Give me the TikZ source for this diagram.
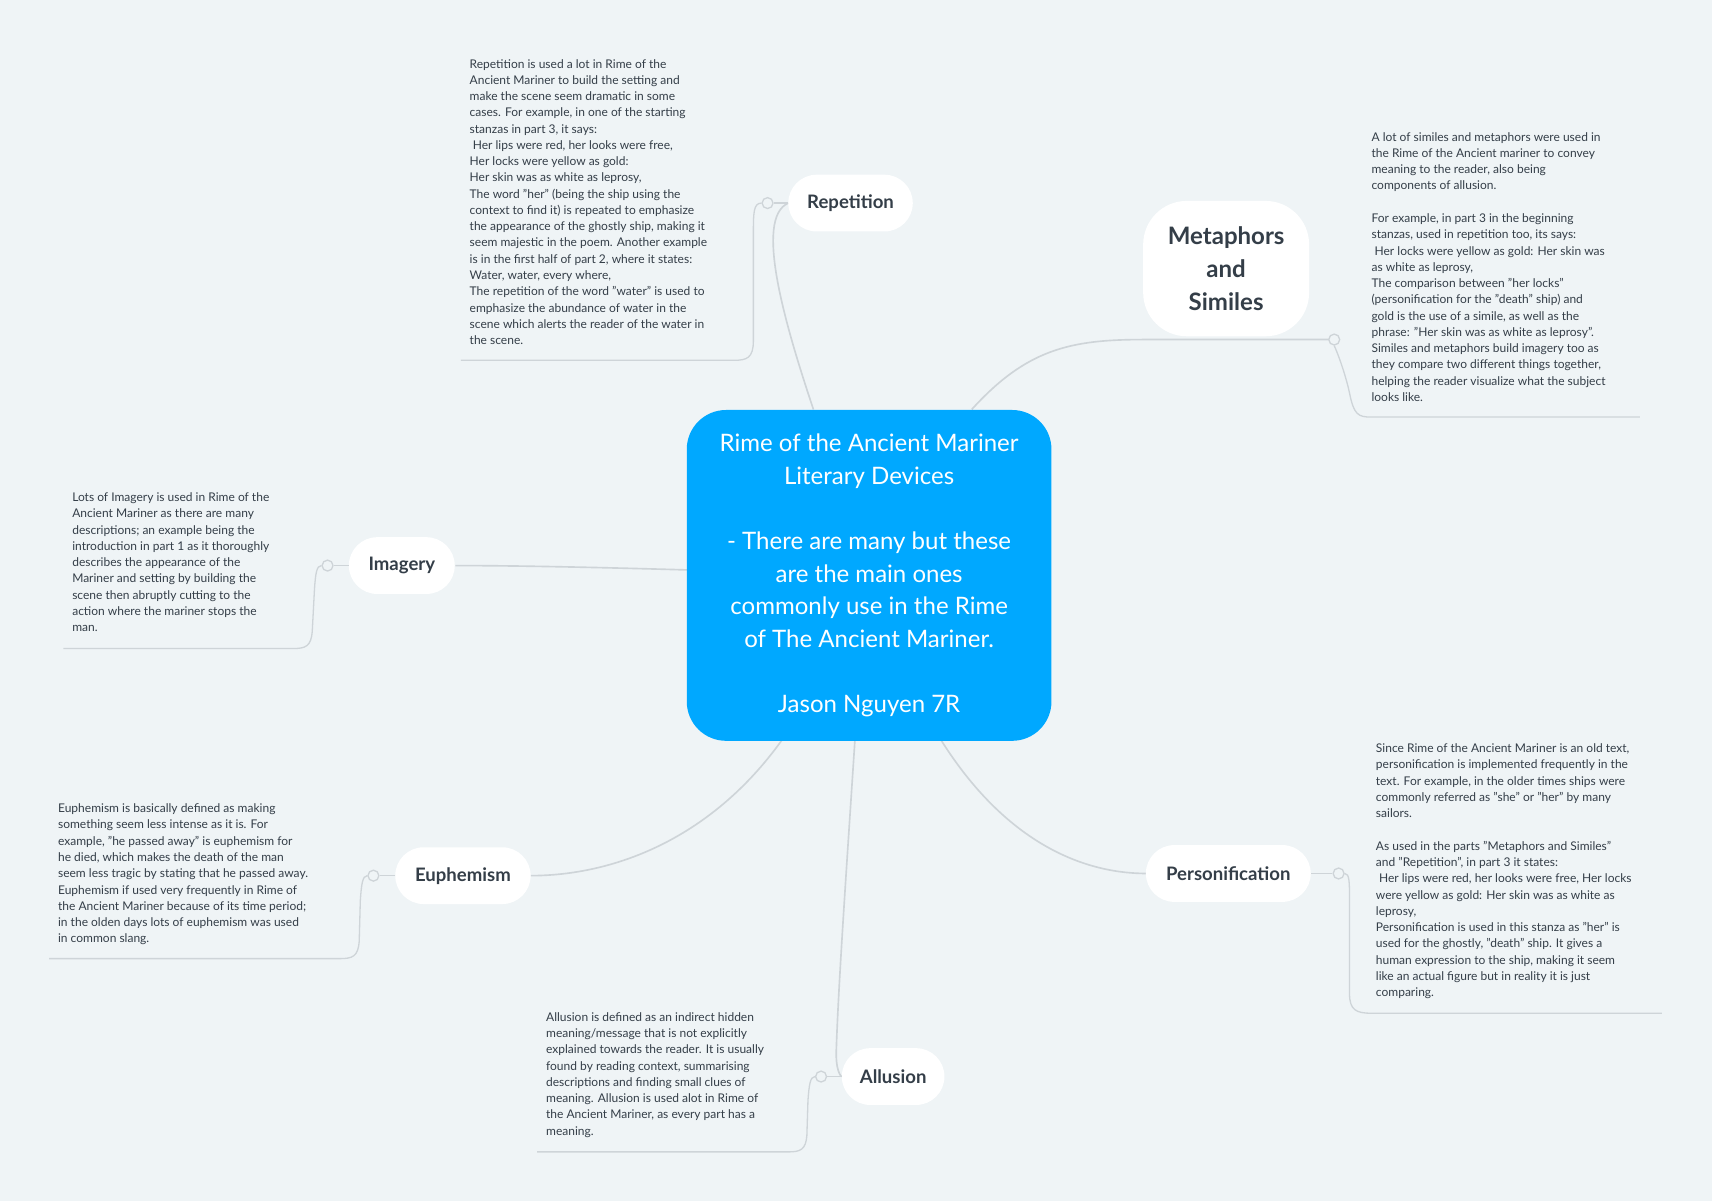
\documentclass[tikz,border=0pt]{standalone}
\usepackage{fontspec}
\setmainfont{Lato}
\definecolor{bg}{RGB}{239,244,246}
\definecolor{cen}{RGB}{0,168,255}
\definecolor{ln}{RGB}{206,212,216}
\definecolor{tx}{RGB}{52,62,72}
\begin{document}
\begin{tikzpicture}[x=1pt,y=-1pt,
  con/.style={draw=ln,line width=1.5pt},
  br/.style={fill=white,rounded corners=26pt,text=tx,font=\fontsize{17}{22}\selectfont\bfseries,inner sep=0pt,align=center},
  desc/.style={anchor=north west,align=left,text=tx,font=\fontsize{11}{14.9}\selectfont,inner sep=0pt},
  dot/.style={circle,draw=ln,fill=bg,line width=1.2pt,minimum size=10pt,inner sep=0pt}]
\fill[bg] (0,0) rectangle (1568,1100);
\useasboundingbox (0,0) rectangle (1568,1100);
% coordinates
\coordinate (cRt) at (745,375);
\coordinate (cMt) at (890,375);
\coordinate (cIm) at (630,522);
\coordinate (cEu) at (716,678);
\coordinate (cAl) at (783,678);
\coordinate (cPe) at (862,678);
% connectors from centre
\draw[con] (cRt) .. controls (720,300) and (690,200) .. (722,186);
\draw[con] (cMt) .. controls (940,320) and (980,311) .. (1047,311) -- (1217,311);
\draw[con] (cIm) .. controls (560,520) and (480,518) .. (417,518);
\draw[con] (cEu) .. controls (650,770) and (560,802) .. (486,802);
\draw[con] (cAl) .. controls (775,800) and (768,900) .. (766,960) .. controls (765,980) and (770,986) .. (771,986);
\draw[con] (cPe) .. controls (920,770) and (990,800) .. (1050,800);
% centre
\node[fill=cen,rounded corners=36pt,minimum width=334pt,minimum height=303pt,text=white,align=center,font=\fontsize{22}{29.8}\selectfont] (c) at (796,527)
{Rime of the Ancient Mariner\\Literary Devices\\[29.8pt]- There are many but these\\are the main ones\\commonly use in the Rime\\of The Ancient Mariner.\\[29.8pt]Jason Nguyen 7R};
% branch nodes
\node[br,minimum width=114pt,minimum height=52pt] (rep) at (779,186) {Repetition};
\node[br,minimum width=152pt,minimum height=124pt,rounded corners=40pt,font=\fontsize{22}{30}\selectfont\bfseries] (met) at (1123,246) {Metaphors\\and\\Similes};
\node[br,minimum width=97pt,minimum height=52pt] (ima) at (368,518) {Imagery};
\node[br,minimum width=124pt,minimum height=52pt] (eup) at (424,802) {Euphemism};
\node[br,minimum width=94pt,minimum height=52pt] (all) at (818,986) {Allusion};
\node[br,minimum width=151pt,minimum height=52pt] (per) at (1125,800) {Personification};
% brackets and dots
\node[dot] (dr) at (703,186) {};
\draw[con,line width=1.2pt] (rep.west) -- (dr);
\draw[con,line width=1.2pt] (dr.west) .. controls (690,186) and (690,195) .. (690,215) -- (690,312) .. controls (690,328) and (684,330) .. (672,330) -- (422,330);
\node[dot] (dm) at (1222,311) {};
\draw[con,line width=1.2pt] (dm.south) .. controls (1228,330) and (1234,350) .. (1236,360) .. controls (1240,380) and (1244,382) .. (1256,382) -- (1502,382);
\node[dot] (di) at (300,518) {};
\draw[con,line width=1.2pt] (ima.west) -- (di);
\draw[con,line width=1.2pt] (di.west) .. controls (290,518) and (289,525) .. (288,540) -- (286,578) .. controls (285,592) and (280,594) .. (268,594) -- (58,594);
\node[dot] (de) at (342,802) {};
\draw[con,line width=1.2pt] (eup.west) -- (de);
\draw[con,line width=1.2pt] (de.west) .. controls (332,802) and (331,810) .. (330,825) -- (329,862) .. controls (328,876) and (323,878) .. (311,878) -- (45,878);
\node[dot] (da) at (752,986) {};
\draw[con,line width=1.2pt] (all.west) -- (da);
\draw[con,line width=1.2pt] (da.west) .. controls (742,986) and (741,994) .. (740,1008) -- (739,1040) .. controls (738,1053) and (733,1055) .. (722,1055) -- (492,1055);
\node[dot] (dp) at (1226,800) {};
\draw[con,line width=1.2pt] (per.east) -- (dp);
\draw[con,line width=1.2pt] (dp.east) .. controls (1236,800) and (1236,808) .. (1236,825) -- (1236,910) .. controls (1236,925) and (1242,928) .. (1256,928) -- (1522,928);
% descriptions
\node[desc] (trep) at (430,54) {Repetition is used a lot in Rime of the\\Ancient Mariner to build the setting and\\make the scene seem dramatic in some\\cases. For example, in one of the starting\\stanzas in part 3, it says:\\\ Her lips were red, her looks were free,\\Her locks were yellow as gold:\\Her skin was as white as leprosy,\\The word "her" (being the ship using the\\context to find it) is repeated to emphasize\\the appearance of the ghostly ship, making it\\seem majestic in the poem. Another example\\is in the first half of part 2, where it states:\\Water, water, every where,\\The repetition of the word "water" is used to\\emphasize the abundance of water in the\\scene which alerts the reader of the water in\\the scene.};
\node[desc] (tmet) at (1256,121) {A lot of similes and metaphors were used in\\the Rime of the Ancient mariner to convey\\meaning to the reader, also being\\components of allusion.\\[14.9pt]For example, in part 3 in the beginning\\stanzas, used in repetition too, its says:\\\ Her locks were yellow as gold: Her skin was\\as white as leprosy,\\The comparison between "her locks"\\(personification for the "death" ship) and\\gold is the use of a simile, as well as the\\phrase: "Her skin was as white as leprosy".\\Similes and metaphors build imagery too as\\they compare two different things together,\\helping the reader visualize what the subject\\looks like.};
\node[desc] (tima) at (66,451) {Lots of Imagery is used in Rime of the\\Ancient Mariner as there are many\\descriptions; an example being the\\introduction in part 1 as it thoroughly\\describes the appearance of the\\Mariner and setting by building the\\scene then abruptly cutting to the\\action where the mariner stops the\\man.};
\node[desc] (teup) at (53,736) {Euphemism is basically defined as making\\something seem less intense as it is. For\\example, "he passed away" is euphemism for\\he died, which makes the death of the man\\seem less tragic by stating that he passed away.\\Euphemism if used very frequently in Rime of\\the Ancient Mariner because of its time period;\\in the olden days lots of euphemism was used\\in common slang.};
\node[desc] (tall) at (500,927) {Allusion is defined as an indirect hidden\\meaning/message that is not explicitly\\explained towards the reader. It is usually\\found by reading context, summarising\\descriptions and finding small clues of\\meaning. Allusion is used alot in Rime of\\the Ancient Mariner, as every part has a\\meaning.};
\node[desc] (tper) at (1260,681) {Since Rime of the Ancient Mariner is an old text,\\personification is implemented frequently in the\\text. For example, in the older times ships were\\commonly referred as "she" or "her" by many\\sailors.\\[14.9pt]As used in the parts "Metaphors and Similes"\\and "Repetition", in part 3 it states:\\\ Her lips were red, her looks were free, Her locks\\were yellow as gold: Her skin was as white as\\leprosy,\\Personification is used in this stanza as "her" is\\used for the ghostly, "death" ship. It gives a\\human expression to the ship, making it seem\\like an actual figure but in reality it is just\\comparing.};
\end{tikzpicture}
\end{document}
